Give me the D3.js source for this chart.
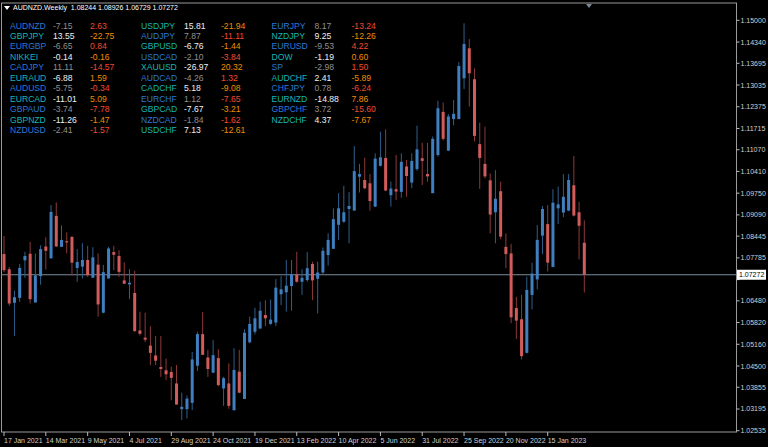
<!DOCTYPE html>
<html><head><meta charset="utf-8">
<script src="https://cdn.jsdelivr.net/npm/d3@7"></script>
<style>html,body{margin:0;padding:0;background:#000;overflow:hidden}</style>
</head><body><svg id="c" width="768" height="447"></svg>
<script>
const opens=[1.0790,1.0744,1.0642,1.0657,1.0771,1.0791,1.0643,1.0723,1.0813,1.0777,1.0906,1.0812,1.0829,1.0842,1.0748,1.0752,1.0772,1.0718,1.0758,1.0612,1.0716,1.0796,1.0784,1.0710,1.0698,1.0672,1.0558,1.0536,1.0512,1.0482,1.0447,1.0437,1.0432,1.0397,1.0319,1.0319,1.0338,1.0451,1.0547,1.0476,1.0430,1.0474,1.0382,1.0397,1.0316,1.0433,1.0350,1.0522,1.0554,1.0564,1.0605,1.0578,1.0582,1.0668,1.0674,1.0693,1.0728,1.0706,1.0711,1.0760,1.0715,1.0734,1.0787,1.0806,1.0879,1.0888,1.0927,1.0922,1.1025,1.1015,1.1005,1.0934,1.1058,1.1082,1.0969,1.0987,1.0979,1.1056,1.1007,1.1048,1.1081,1.1033,1.0975,1.1091,1.1222,1.1104,1.1200,1.1200,1.1324,1.1415,1.1321,1.1124,1.1064,1.1014,1.0917,1.0981,1.0812,1.0792,1.0626,1.0592,1.0490,1.0666,1.0713,1.0846,1.0881,1.0751,1.0929,1.0916,1.0922,1.0999,1.0917,1.08244];
const highs=[1.0845,1.0751,1.0679,1.0760,1.0797,1.0827,1.0792,1.0817,1.0841,1.0939,1.0947,1.0877,1.0856,1.0845,1.0805,1.0823,1.0815,1.0811,1.0792,1.0757,1.0812,1.0815,1.0802,1.0765,1.0744,1.0739,1.0615,1.0612,1.0571,1.0541,1.0541,1.0473,1.0448,1.0453,1.0369,1.0360,1.0493,1.0554,1.0614,1.0499,1.0529,1.0501,1.0417,1.0458,1.0504,1.0499,1.0562,1.0600,1.0627,1.0645,1.0650,1.0652,1.0714,1.0723,1.0772,1.0772,1.0797,1.0744,1.0796,1.0767,1.0767,1.0810,1.0853,1.0929,1.0975,1.0997,1.0978,1.1118,1.1064,1.1083,1.1033,1.1096,1.1162,1.1169,1.1010,1.1091,1.1096,1.1076,1.1096,1.1180,1.1128,1.1128,1.1147,1.1256,1.1250,1.1215,1.1258,1.1373,1.1491,1.1443,1.1354,1.1189,1.1177,1.1035,1.1045,1.1010,1.0853,1.0821,1.0660,1.0666,1.0721,1.0764,1.0878,1.0936,1.0939,1.0987,1.0995,1.1033,1.1033,1.1088,1.0949,1.08926];
const lows=[1.0735,1.0633,1.0541,1.0645,1.0718,1.0640,1.0643,1.0697,1.0743,1.0777,1.0813,1.0812,1.0792,1.0724,1.0706,1.0716,1.0721,1.0718,1.0600,1.0610,1.0716,1.0741,1.0721,1.0700,1.0653,1.0554,1.0543,1.0523,1.0453,1.0453,1.0417,1.0407,1.0346,1.0333,1.0286,1.0291,1.0316,1.0435,1.0484,1.0417,1.0428,1.0389,1.0329,1.0320,1.0314,1.0367,1.0350,1.0519,1.0546,1.0562,1.0571,1.0575,1.0571,1.0635,1.0615,1.0618,1.0703,1.0666,1.0706,1.0650,1.0610,1.0727,1.0755,1.0806,1.0833,1.0885,1.0823,1.0922,1.0977,1.0987,1.0922,1.0934,1.1056,1.0981,1.0934,1.0954,1.0961,1.0964,1.0990,1.1043,1.1000,1.1010,1.0975,1.1086,1.1135,1.1104,1.1181,1.1200,1.1291,1.1238,1.1132,1.0988,1.1020,1.0853,1.0823,1.0835,1.0747,1.0580,1.0532,1.0470,1.0488,1.0622,1.0683,1.0790,1.0737,1.0750,1.0881,1.0902,1.0920,1.0904,1.0774,1.06729];
const closes=[1.0741,1.0640,1.0659,1.0748,1.0784,1.0653,1.0725,1.0805,1.0800,1.0918,1.0813,1.0833,1.0826,1.0764,1.0766,1.0772,1.0726,1.0780,1.0637,1.0735,1.0807,1.0788,1.0736,1.0700,1.0703,1.0556,1.0548,1.0530,1.0490,1.0466,1.0441,1.0425,1.0414,1.0333,1.0326,1.0351,1.0470,1.0547,1.0484,1.0441,1.0483,1.0392,1.0413,1.0329,1.0438,1.0369,1.0551,1.0578,1.0595,1.0618,1.0595,1.0591,1.0688,1.0683,1.0694,1.0729,1.0706,1.0718,1.0747,1.0710,1.0734,1.0800,1.0833,1.0896,1.0929,1.0917,1.0936,1.1042,1.1033,1.0990,1.0951,1.1080,1.1084,1.0983,1.0989,1.0980,1.1070,1.1027,1.1073,1.1108,1.1073,1.1026,1.1140,1.1233,1.1140,1.1208,1.1216,1.1361,1.1428,1.1339,1.1149,1.1082,1.1026,1.0910,1.0958,1.0843,1.0790,1.0598,1.0588,1.0480,1.0681,1.0731,1.0833,1.0927,1.0764,1.0946,1.0941,1.0964,1.1015,1.0907,1.0876,1.07272];
const dateLabels=["17 Jan 2021","14 Mar 2021","9 May 2021","4 Jul 2021","29 Aug 2021","24 Oct 2021","19 Dec 2021","13 Feb 2022","10 Apr 2022","5 Jun 2022","31 Jul 2022","25 Sep 2022","20 Nov 2022","15 Jan 2023"];
const labelEvery=8;
const priceTicks=[1.15000,1.14340,1.13695,1.13035,1.12375,1.11715,1.11070,1.10410,1.09750,1.09090,1.08445,1.07785,1.07125,1.06480,1.05820,1.05160,1.04500,1.03855,1.03195,1.02535];
const lastPrice=1.07272;
const title="AUDNZD.Weekly  1.08244 1.08926 1.06729 1.07272";
const col1Names=["AUDNZD","GBPJPY","EURGBP","NIKKEI","CADJPY","EURAUD","AUDUSD","EURCAD","GBPAUD","GBPNZD","NZDUSD"];
const col1A=["-7.15","13.55","-6.65","-0.14","11.11","-6.88","-5.75","-11.01","-3.74","-11.26","-2.41"];
const col1B=["2.63","-22.75","0.84","-0.16","-14.57","1.59","-0.34","5.09","-7.78","-1.47","-1.57"];
const col2Names=["USDJPY","AUDJPY","GBPUSD","USDCAD","XAUUSD","AUDCAD","CADCHF","EURCHF","GBPCAD","NZDCAD","USDCHF"];
const col2A=["15.81","7.87","-6.76","-2.10","-26.97","-4.26","5.18","1.12","-7.67","-1.84","7.13"];
const col2B=["-21.94","-11.11","-1.44","-3.84","20.32","1.32","-9.08","-7.65","-3.21","-1.62","-12.61"];
const col3Names=["EURJPY","NZDJPY","EURUSD","DOW","SP","AUDCHF","CHFJPY","EURNZD","GBPCHF","NZDCHF"];
const col3A=["8.17","9.25","-9.53","-1.19","-2.98","2.41","0.78","-14.88","3.72","4.37"];
const col3B=["-13.24","-12.26","4.22","0.60","1.50","-5.89","-6.24","7.86","-15.60","-7.67"];

const svg=d3.select("#c");
const L=1.5,R=736.5,T=3,B=432;
const x=d3.scaleLinear().domain([0,111]).range([4,584.3]);
const y=d3.scaleLinear().domain([1.02496,1.15526]).range([B,T]);
const font="'Liberation Sans', Arial, sans-serif";

svg.append("rect").attr("x",L).attr("y",T).attr("width",R-L).attr("height",B-T).attr("fill","none").attr("stroke","#9a9a9a").attr("stroke-width",1);
svg.append("path").attr("d","M586,4L592,4L589,8Z").attr("fill","#9ab").attr("opacity",0.8);

// price axis
const pa=svg.append("g").attr("font-family",font).attr("font-size",7).attr("fill","#d0d0d0");
priceTicks.forEach(p=>{
  pa.append("line").attr("x1",R).attr("x2",R+3).attr("y1",y(p)).attr("y2",y(p)).attr("stroke","#bbb");
  if(Math.abs(y(p)-y(lastPrice))>8) pa.append("text").attr("x",R+4).attr("y",y(p)+2.5).text(p.toFixed(5));
});
// time axis
const ta=svg.append("g").attr("font-family",font).attr("font-size",7).attr("fill","#d0d0d0");
dateLabels.forEach((d,i)=>{
  const xi=x(i*labelEvery);
  ta.append("line").attr("x1",xi).attr("x2",xi).attr("y1",B).attr("y2",B+4).attr("stroke","#bbb");
  ta.append("text").attr("x",xi).attr("y",443).text(d);
});

// last price line
svg.append("line").attr("x1",L).attr("x2",R).attr("y1",y(lastPrice)).attr("y2",y(lastPrice)).attr("stroke","#7d8c98").attr("stroke-width",1);
svg.append("rect").attr("x",R+0.5).attr("y",y(lastPrice)-5).attr("width",29).attr("height",10).attr("fill","#fff");
svg.append("text").attr("x",R+2.5).attr("y",y(lastPrice)+2.5).attr("font-family",font).attr("font-size",7).attr("fill","#000").text(lastPrice.toFixed(5));

// candles
const idx=d3.range(opens.length);
const g=svg.append("g");
g.selectAll("line.w").data(idx).join("line")
 .attr("x1",i=>x(i)).attr("x2",i=>x(i)).attr("y1",i=>y(highs[i])).attr("y2",i=>y(lows[i]))
 .attr("stroke",i=>closes[i]>=opens[i]?"#2f5f8c":"#8c3a3a").attr("stroke-width",1);
g.selectAll("rect.b").data(idx).join("rect")
 .attr("x",i=>x(i)-1.5).attr("width",3)
 .attr("y",i=>y(Math.max(opens[i],closes[i])))
 .attr("height",i=>Math.max(1.2,Math.abs(y(opens[i])-y(closes[i]))))
 .attr("fill",i=>closes[i]>=opens[i]?"#3f7fc0":"#d25c5c");

// title
svg.append("path").attr("d","M4,6L10,6L7,10Z").attr("fill","#fff");
svg.append("text").attr("x",13).attr("y",10).attr("font-family",font).attr("font-size",7).attr("fill","#fff").attr("xml:space","preserve").text(title);

// table
const tg=svg.append("g").attr("font-family",font).attr("font-size",8.6);
const cols=[[col1Names,col1A,col1B,10,0],[col2Names,col2A,col2B,141,1],[col3Names,col3A,col3B,271.5,0]];
cols.forEach(([n,a,b,cx,off])=>{
  n.forEach((name,r)=>{
    const alt=(r+off)%2===1;
    const yy=28.5+r*10.47;
    tg.append("text").attr("x",cx).attr("y",yy).attr("fill",alt?"#18b4b4":"#2a78d4").text(name);
    tg.append("text").attr("x",cx+43).attr("y",yy).attr("fill",alt?"#f0f0f0":"#909090").text(a[r]);
    tg.append("text").attr("x",cx+80).attr("y",yy).attr("fill",alt?"#f08c00":"#f04a30").text(b[r]);
  });
});
</script></body></html>
